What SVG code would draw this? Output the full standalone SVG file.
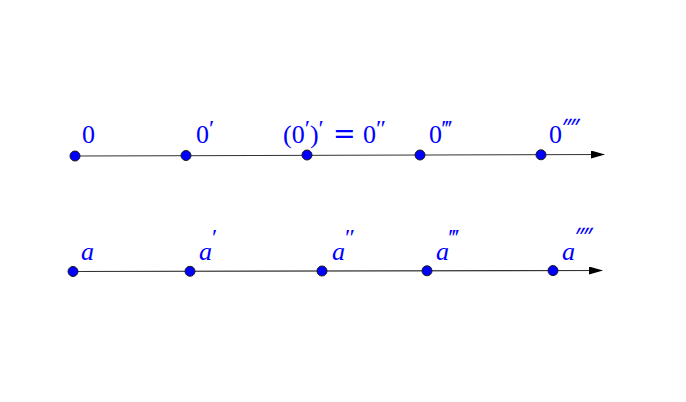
<svg xmlns="http://www.w3.org/2000/svg" width="686" height="402" viewBox="0 0 686 402">
<style>
.ln{stroke:#333;stroke-width:1.2;fill:none}
.pt{fill:#0000ff;stroke:#1a1a1a;stroke-width:1}
.lb{font-family:"Liberation Serif",serif;font-size:26px;fill:#0000ff}
.it{font-style:italic}
.pr{font-size:24px;font-style:normal}
.eq{font-family:"DejaVu Serif",serif;font-size:27px}
</style>
<defs>
<marker id="ar" markerWidth="14" markerHeight="8" refX="13" refY="4" orient="auto" markerUnits="userSpaceOnUse">
<path d="M0,0 L14,4 L0,8 Z" fill="#000"/>
</marker>
</defs>
<rect width="686" height="402" fill="#fff"/>
<g id="connectors">
<line class="ln" x1="75" y1="156" x2="604" y2="154.5" marker-end="url(#ar)"/>
<line class="ln" x1="73" y1="271.5" x2="602" y2="270.5" marker-end="url(#ar)"/>
</g>
<g id="p0"><circle class="pt" cx="75" cy="156" r="5"/><text class="lb" x="82" y="143">0</text></g>
<g id="p1"><circle class="pt" cx="186" cy="155.5" r="5"/><text class="lb" x="196" y="143">0<tspan class="pr" dy="-7">′</tspan></text></g>
<g id="p2"><circle class="pt" cx="307" cy="155" r="5"/><text class="lb" x="283" y="143">(0<tspan class="pr" dy="-7">′</tspan><tspan dy="7">)</tspan><tspan class="pr" dy="-7">′</tspan><tspan class="eq" x="333" dy="7">=</tspan><tspan x="363">0</tspan><tspan class="pr" dy="-7">″</tspan></text></g>
<g id="p3"><circle class="pt" cx="420" cy="155" r="5"/><text class="lb" x="429" y="143">0<tspan class="pr" dy="-7">‴</tspan></text></g>
<g id="p4"><circle class="pt" cx="541" cy="154.8" r="5"/><text class="lb" x="549" y="143">0<tspan class="pr" dy="-7">⁗</tspan></text></g>
<g id="q0"><circle class="pt" cx="73" cy="271.5" r="5"/><text class="lb it" x="81" y="260">a</text></g>
<g id="q1"><circle class="pt" cx="190" cy="271.3" r="5"/><text class="lb it" x="199" y="260">a<tspan class="pr" dy="-15">′</tspan></text></g>
<g id="q2"><circle class="pt" cx="322" cy="271" r="5"/><text class="lb it" x="332" y="260">a<tspan class="pr" dy="-15">″</tspan></text></g>
<g id="q3"><circle class="pt" cx="427" cy="270.8" r="5"/><text class="lb it" x="436" y="260">a<tspan class="pr" dy="-15">‴</tspan></text></g>
<g id="q4"><circle class="pt" cx="553" cy="270.6" r="5"/><text class="lb it" x="562" y="260">a<tspan class="pr" dy="-15">⁗</tspan></text></g>
</svg>
